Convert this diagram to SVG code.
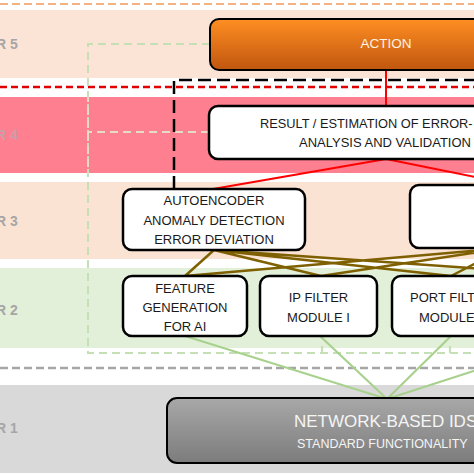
<svg xmlns="http://www.w3.org/2000/svg" width="474" height="474" viewBox="0 0 474 474">
<defs>
<linearGradient id="gOrange" x1="0" y1="0" x2="0" y2="1">
<stop offset="0" stop-color="#ff8e22"/>
<stop offset="1" stop-color="#c0560f"/>
</linearGradient>
<linearGradient id="gGray" x1="0" y1="0" x2="0" y2="1">
<stop offset="0" stop-color="#a8a8a8"/>
<stop offset="1" stop-color="#7c7c7c"/>
</linearGradient>
<style>
.band-label{font-family:"Liberation Sans",Arial,sans-serif;font-weight:bold;font-size:14px;fill:#a6a6a6}
.box{fill:#ffffff;stroke:#000000;stroke-width:2.5}
.t{font-family:"Liberation Sans",Arial,sans-serif;font-size:13px;fill:#1a1a1a}
.c{text-anchor:middle}
.red{stroke:#ff0000;stroke-width:2;fill:none}
.brown{stroke:#7f6000;stroke-width:2.5;fill:none}
.green{stroke:#a9d18e;stroke-width:2.2;fill:none}
.gdash{stroke:#c5e0b4;stroke-width:2;fill:none;stroke-dasharray:8 5}
</style>
</defs>
<rect width="474" height="474" fill="#ffffff"/>
<g id="bands">
<rect x="0" y="10" width="474" height="68" fill="#fbe4d5"/>
<rect x="0" y="97" width="474" height="76" fill="#fe7f8f"/>
<rect x="0" y="182" width="474" height="77" fill="#fbe3d4"/>
<rect x="0" y="268" width="474" height="80" fill="#e2f0d9"/>
<rect x="0" y="385" width="474" height="88" fill="#d9d9d9"/>
<text class="band-label" x="-4" y="49">R 5</text>
<text class="band-label" x="-4" y="140" fill="#c9a3ab" style="fill:#c9a0a8">R 4</text>
<text class="band-label" x="-4" y="226">R 3</text>
<text class="band-label" x="-4" y="315">R 2</text>
<text class="band-label" x="-4" y="433">R 1</text>
</g>
<g id="dividers" fill="none">
<line x1="0" y1="4" x2="474" y2="4" stroke="#f4b183" stroke-width="2" stroke-dasharray="8 4"/>
<line x1="0" y1="87" x2="474" y2="87" stroke="#e00000" stroke-width="2.5" stroke-dasharray="7 4"/>
<line x1="0" y1="368" x2="474" y2="368" stroke="#a6a6a6" stroke-width="2.5" stroke-dasharray="8 4"/>
</g>
<g id="groupings">
<path class="gdash" d="M210 44 H88 V353 H474"/>
<path d="M88 97 V173" fill="none" stroke="#e4dcc4" stroke-width="2" stroke-dasharray="8 5" stroke-dashoffset="3"/>
<path d="M209 132 H88 V140" fill="none" stroke="#e4dcc4" stroke-width="2" stroke-dasharray="8 5"/>
<path class="green" d="M322 346 V353 M450 346 V353" style="stroke:#c5e0b4"/>
<path d="M174 189 V80 H474" fill="none" stroke="#000000" stroke-width="2.5" stroke-dasharray="13 6"/>
</g>
<g id="connectors">
<path class="red" d="M386 70 V106 M386 159 L213 189 M386 159 L520 186"/>
<path class="brown" d="M214 250 L185 276 M214 250 L321 276 M214 250 L451 276 M214 250 L582 276 M505 248 L185 276 M505 248 L321 276 M505 248 L451 276"/>
<path class="green" d="M387 399 L185 336 M387 399 L320 336 M387 399 L451 336 M387 399 L582 336"/>
</g>
<g id="action">
<rect x="210" y="19" width="290" height="51" rx="9" fill="url(#gOrange)" stroke="#000000" stroke-width="2"/>
<text x="386" y="48" font-family="Liberation Sans, Arial, sans-serif" font-size="13.5" fill="#fff3e3" text-anchor="middle">ACTION</text>
</g>
<g id="result">
<rect class="box" x="209" y="106" width="300" height="53" rx="9"/>
<text class="t" x="260" y="128" font-size="12.8" style="font-size:12.8px">RESULT / ESTIMATION OF ERROR-</text>
<text class="t" x="299" y="147">ANALYSIS AND VALIDATION</text>
</g>
<g id="autoencoder">
<rect class="box" x="123" y="189" width="182" height="61" rx="9"/>
<text class="t c" x="214" y="205">AUTOENCODER</text>
<text class="t c" x="214" y="225">ANOMALY DETECTION</text>
<text class="t c" x="214" y="244">ERROR DEVIATION</text>
</g>
<g id="layer3-right">
<rect class="box" x="410" y="185" width="200" height="63" rx="9"/>
</g>
<g id="feature">
<rect class="box" x="123" y="276" width="124" height="60" rx="9"/>
<text class="t c" x="185" y="293">FEATURE</text>
<text class="t c" x="185" y="312">GENERATION</text>
<text class="t c" x="185" y="331">FOR AI</text>
</g>
<g id="ipfilter">
<rect class="box" x="260" y="276" width="117" height="60" rx="9"/>
<text class="t c" x="318.5" y="302">IP FILTER</text>
<text class="t c" x="318.5" y="322">MODULE I</text>
</g>
<g id="portfilter">
<rect class="box" x="392" y="276" width="117" height="60" rx="9"/>
<text class="t" x="410" y="302">PORT FILT</text>
<text class="t" x="419" y="322">MODULE</text>
</g>
<g id="ids">
<rect x="167" y="398" width="340" height="65" rx="10" fill="url(#gGray)" stroke="#000000" stroke-width="2"/>
<text x="294" y="427" font-family="Liberation Sans, Arial, sans-serif" font-size="17" fill="#f5f5f5">NETWORK-BASED IDS</text>
<text x="297" y="448" font-family="Liberation Sans, Arial, sans-serif" font-size="12.5" fill="#f5f5f5">STANDARD FUNCTIONALITY</text>
</g>
</svg>
